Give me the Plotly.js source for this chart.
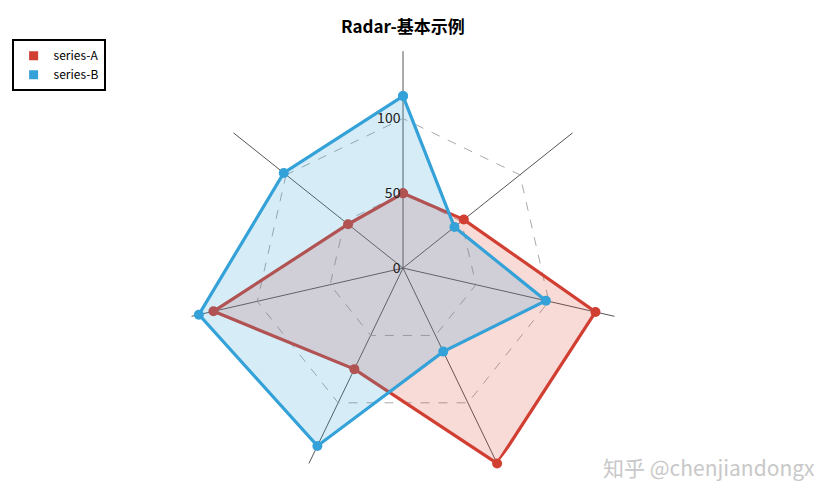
<!DOCTYPE html>
<html>
<head>
<meta charset="utf-8">
<script src="https://cdn.plot.ly/plotly-3.0.1.min.js"></script>
<style>html,body{margin:0;padding:0;background:#fff;}#chart{width:829px;height:502px;}</style>
</head>
<body>
<div id="chart"></div>
<script>
const categories = ["a", "b", "c", "d", "e", "f", "g"];
const seriesA = [50, 52, 132, 145, 75, 130, 47];
const seriesB = [115, 44, 98, 62, 132, 140, 102];
const radialTicks = [0, 50, 100];
const radialTickLabels = ["0", "50", "100"];
const seriesNames = ["series-A", "series-B"];
const seriesColors = ["#d13f33", "#34a2d8"];
const titleText = "Radar-基本示例";
const watermark = "知乎 @chenjiandongx";

const closeLoop = arr => arr.concat([arr[0]]);
const font = "'Noto Sans CJK SC', 'DejaVu Sans', sans-serif";

const traces = [
  {
    type: "scatterpolar",
    name: seriesNames[0],
    r: closeLoop(seriesA),
    theta: closeLoop(categories),
    fill: "toself",
    fillcolor: "rgba(220,70,50,0.2)",
    line: {color: seriesColors[0], width: 3.2},
    marker: {color: seriesColors[0], size: 10},
    mode: "lines+markers",
    showlegend: false
  },
  {
    type: "scatterpolar",
    name: seriesNames[1],
    r: closeLoop(seriesB),
    theta: closeLoop(categories),
    fill: "toself",
    fillcolor: "rgba(52,162,216,0.2)",
    line: {color: seriesColors[1], width: 3.2},
    marker: {color: seriesColors[1], size: 10},
    mode: "lines+markers",
    showlegend: false
  },
  {
    type: "scatterpolar", name: seriesNames[0], r: [null], theta: [null],
    mode: "markers", marker: {symbol: "square", size: 9, color: seriesColors[0]}
  },
  {
    type: "scatterpolar", name: seriesNames[1], r: [null], theta: [null],
    mode: "markers", marker: {symbol: "square", size: 9, color: seriesColors[1]}
  }
];

const layout = {
  width: 829,
  height: 502,
  margin: {l: 0, r: 0, t: 0, b: 0},
  paper_bgcolor: "#fff",
  font: {family: font, color: "#000"},
  title: {text: "<b>" + titleText + "</b>", x: 0.486, xanchor: "center", y: 0.947, yanchor: "middle", font: {size: 17, family: font, color: "#000"}},
  showlegend: true,
  legend: {
    x: 0.014, y: 0.922, xanchor: "left", yanchor: "top",
    bordercolor: "#000", borderwidth: 2, bgcolor: "#fff",
    font: {size: 12, family: font},
    itemwidth: 30,
    tracegroupgap: 0
  },
  polar: {
    domain: {x: [0.2244, 0.7479], y: [0.034, 0.898]},
    bgcolor: "rgba(0,0,0,0)",
    gridshape: "linear",
    angularaxis: {
      type: "category",
      categoryarray: categories,
      direction: "clockwise",
      rotation: 90,
      showline: false,
      showticklabels: false,
      ticks: "",
      showgrid: true,
      gridcolor: "#555",
      gridwidth: 1
    },
    radialaxis: {
      range: [0, 145],
      angle: 90,
      tickangle: 90,
      tickvals: radialTicks,
      ticktext: radialTickLabels,
      showline: false,
      ticks: "",
      side: "counterclockwise",
      showgrid: true,
      gridcolor: "#aaa",
      griddash: "dash",
      gridwidth: 1,
      tickfont: {size: 14, color: "#222", family: font}
    }
  },
  annotations: [
    {text: watermark, xref: "paper", yref: "paper", x: 0.985, y: 0.07, xanchor: "right", yanchor: "middle", showarrow: false, font: {size: 21, color: "#c8c8c8", family: font}}
  ]
};

Plotly.newPlot("chart", traces, layout, {displayModeBar: false, staticPlot: true});
</script>
</body>
</html>
